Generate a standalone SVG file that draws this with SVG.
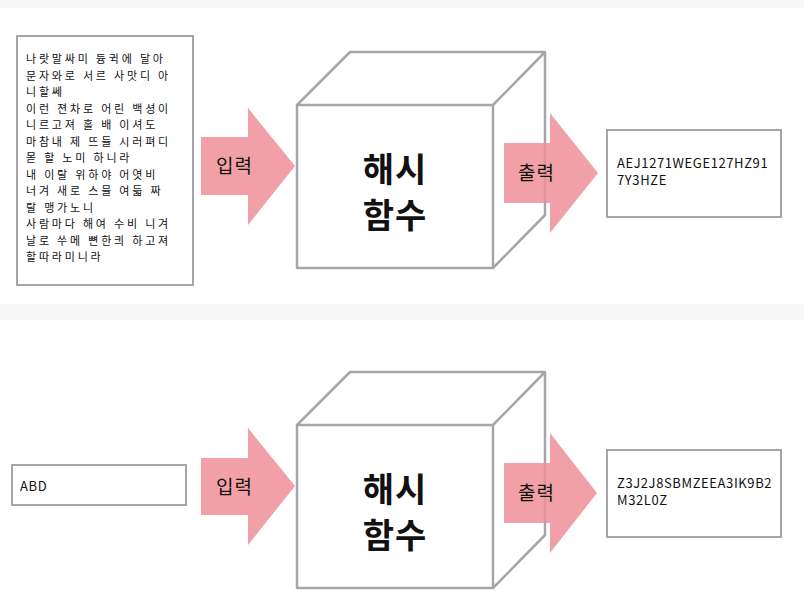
<svg xmlns="http://www.w3.org/2000/svg" width="804" height="611" viewBox="0 0 804 611">
<style>
.box{fill:#fff;stroke:#a6a6a6;stroke-width:2}
.cube{fill:#fff;stroke:#a6a6a6;stroke-width:2.5;stroke-linejoin:round}
.arr{fill:#ee8f98;fill-opacity:0.85}
.t{font-family:"Noto Sans CJK KR","Liberation Sans",sans-serif;fill:#111}
.s{font-size:13px;letter-spacing:0.6px}
.k{font-size:11px;letter-spacing:2.8px}
.m{font-size:19px;letter-spacing:1px}
.b{font-size:34px;font-weight:bold;text-anchor:middle;letter-spacing:1px}
</style>
<rect width="804" height="611" fill="#f6f6f6"/>
<rect x="0" y="8" width="804" height="296" fill="#fff"/>
<rect x="0" y="320" width="804" height="291" fill="#fff"/>
<g id="input1"><rect class="box" x="17" y="36" width="176" height="249"/>
<text class="t k" x="26" y="63">나랏말싸미 듕귁에 달아</text>
<text class="t k" x="26" y="79.5">문자와로 서르 사맛디 아</text>
<text class="t k" x="26" y="96">니할쎄</text>
<text class="t k" x="26" y="112.5">이런 젼차로 어린 백셩이</text>
<text class="t k" x="26" y="129">니르고져 홀 배 이셔도</text>
<text class="t k" x="26" y="145.5">마참내 제 뜨들 시러펴디</text>
<text class="t k" x="26" y="162">몯 할 노미 하니라</text>
<text class="t k" x="26" y="178.5">내 이랄 위하야 어엿비</text>
<text class="t k" x="26" y="195">너겨 새로 스믈 여듧 짜</text>
<text class="t k" x="26" y="211.5">랄 맹가노니</text>
<text class="t k" x="26" y="228">사람마다 해여 수비 니겨</text>
<text class="t k" x="26" y="244.5">날로 쑤메 뼌한킈 하고져</text>
<text class="t k" x="26" y="261">할따라미니라</text></g>
<g id="cube1"><path class="cube" d="M297 105 L350 52 L545 52 L545 215 L493 268 L297 268 Z M297 105 L493 105 L493 268 M493 105 L545 52"/>
<text class="t b" x="395" y="182">해시</text><text class="t b" x="395" y="228">함수</text></g>
<g id="output1"><rect class="box" x="607" y="130" width="174" height="87"/>
<text class="t s" x="617" y="168">AEJ1271WEGE127HZ91</text><text class="t s" x="617" y="185">7Y3HZE</text></g>
<g id="input2"><rect class="box" x="12" y="465" width="174" height="40"/><text class="t s" x="20" y="491">ABD</text></g>
<g id="cube2"><path class="cube" d="M297 425 L350 372 L545 372 L545 535 L493 588 L297 588 Z M297 425 L493 425 L493 588 M493 425 L545 372"/>
<text class="t b" x="395" y="502">해시</text><text class="t b" x="395" y="548">함수</text></g>
<g id="output2"><rect class="box" x="607" y="450" width="174" height="87"/>
<text class="t s" x="617" y="488">Z3J2J8SBMZEEA3IK9B2</text><text class="t s" x="617" y="505">M32L0Z</text></g>
<g id="connectors">
<path class="arr" d="M201 137 H248 V108 L295 166 L248 225 V195 H201 Z"/>
<text class="t m" x="216" y="173">입력</text>
<path class="arr" d="M504 143 H550 V113 L598 173 L550 233 V203 H504 Z"/>
<text class="t m" x="518" y="180">출력</text>
<path class="arr" d="M201 458 H248 V428 L295 486 L248 545 V515 H201 Z"/>
<text class="t m" x="216" y="494">입력</text>
<path class="arr" d="M504 463 H550 V433 L597 493 L550 553 V523 H504 Z"/>
<text class="t m" x="518" y="500">출력</text>
</g>
</svg>
